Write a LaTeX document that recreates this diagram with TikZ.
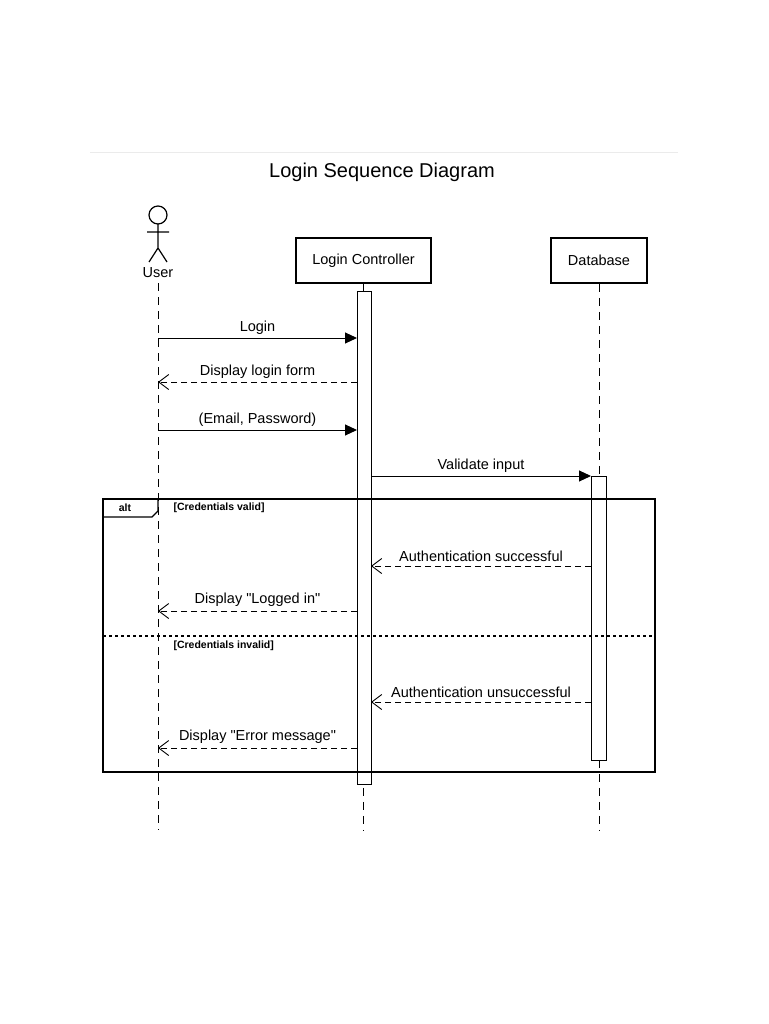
\documentclass[tikz,border=0pt]{standalone}
\usepackage{fontspec}
\setmainfont{Liberation Sans}[Ligatures=TeXOff]
\usetikzlibrary{arrows.meta}
\begin{document}
\begin{tikzpicture}[x=1pt,y=-1pt,
  msg/.style={font=\fontsize{14.5}{16}\selectfont},
  guard/.style={font=\fontsize{10.5}{12}\selectfont\bfseries, anchor=west},
  box/.style={draw, line width=1.6pt, minimum height=45pt, font=\fontsize{14.5}{16}\selectfont},
  life/.style={dash pattern=on 8pt off 6pt, line width=0.9pt},
  act/.style={draw, line width=0.9pt, fill=white},
  call/.style={line width=1pt, -{Triangle[length=12pt,width=11pt]}},
  ret/.style={line width=0.9pt, dash pattern=on 6pt off 4pt, -{Straight Barb[length=10pt,width=15pt]}}]
\useasboundingbox (0,0) rectangle (768,1024);
\draw[black!8, line width=0.8pt] (90,152) -- (678,152);
\node[font=\fontsize{20}{23}\selectfont] (title) at (382,172) {Login Sequence Diagram};
% actor
\draw[line width=1.2pt] (158,215) circle (9);
\draw[line width=1.2pt] (158,224) -- (158,248) (147,232) -- (169,232) (149,262) -- (158,248) -- (167,262);
\node[msg] (user) at (158,273) {User};
\node[box, minimum width=135pt] (lc) at (363.5,260.5) {Login Controller};
\node[box, minimum width=96pt] (db) at (599,260.5) {Database};
% lifelines
\coordinate (ub) at (158,830);
\coordinate (lcb) at (363.5,830);
\coordinate (dbb) at (599,830);
\draw[life] (158,283) -- (ub);
\draw[life] (lc.south) -- (lcb);
\draw[life] (db.south) -- (dbb);
% activations
\draw[act] (357,291) rectangle (371,784);
\draw[act] (591,476) rectangle (606,760);
\coordinate (u1) at (158,338); \coordinate (c1) at (357,338);
\coordinate (u2) at (158,382); \coordinate (c2) at (357,382);
\coordinate (u3) at (158,430); \coordinate (c3) at (357,430);
\coordinate (c4) at (371,476); \coordinate (d4) at (591,476);
\coordinate (c5) at (371,566); \coordinate (d5) at (591,566);
\coordinate (u6) at (158,611); \coordinate (c6) at (357,611);
\coordinate (c7) at (371,702); \coordinate (d7) at (591,702);
\coordinate (u8) at (158,748); \coordinate (c8) at (357,748);
\draw[call] (u1) -- node[msg, above=0pt] {Login} (c1);
\draw[ret] (c2) -- node[msg, above=0pt] {Display login form} (u2);
\draw[call] (u3) -- node[msg, above=0pt] {(Email, Password)} (c3);
\draw[call] (c4) -- node[msg, above=0pt] {Validate input} (d4);
% alt frame
\draw[line width=1.8pt] (103,499) rectangle (655,772);
\draw[line width=1.2pt] (103,517) -- (152,517) -- (158,511) -- (158,499);
\node[font=\fontsize{10.5}{12}\selectfont\bfseries] (alt) at (125,508) {alt};
\node[guard] (g1) at (170,508) {[Credentials valid]};
\draw[line width=1.8pt, dash pattern=on 3pt off 3pt] (103,636) -- (655,636);
\node[guard] (g2) at (170,646) {[Credentials invalid]};
\draw[ret] (d5) -- node[msg, above=1pt] {Authentication successful} (c5);
\draw[ret] (c6) -- node[msg, above=1pt] {Display "Logged in"} (u6);
\draw[ret] (d7) -- node[msg, above=1pt] {Authentication unsuccessful} (c7);
\draw[ret] (c8) -- node[msg, above=1pt] {Display "Error message"} (u8);
\end{tikzpicture}
\end{document}
